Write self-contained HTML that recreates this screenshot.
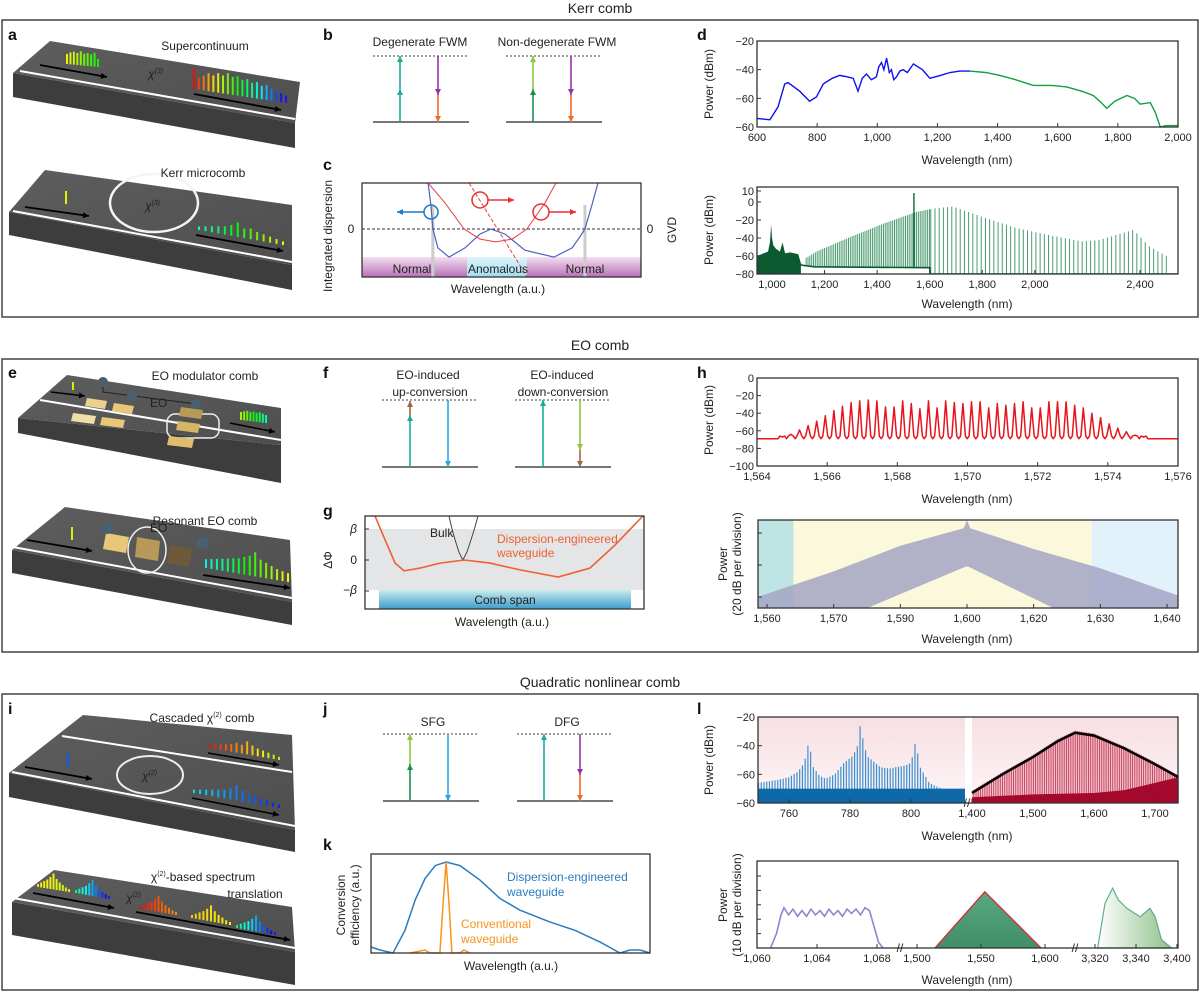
<!DOCTYPE html>
<html><head><meta charset="utf-8">
<style>
html,body{margin:0;padding:0;background:#fff;}
svg{display:block;font-family:"Liberation Sans",Arial,sans-serif;}
.tk{font-size:11px;fill:#222;}
.lab{font-size:12px;fill:#222;}
.pl{font-size:16px;font-weight:bold;fill:#111;}
.sec{font-size:14px;fill:#222;}
</style></head>
<body>
<svg id="fig" width="1200" height="992" viewBox="0 0 1200 992" xmlns="http://www.w3.org/2000/svg">
<defs>
<linearGradient id="chipTop" x1="0" y1="0" x2="1" y2="1"><stop offset="0" stop-color="#5e5e5e"/><stop offset="1" stop-color="#4e4e4e"/></linearGradient>
<linearGradient id="purpBand" x1="0" y1="0" x2="0" y2="1"><stop offset="0" stop-color="#f3dff0"/><stop offset="1" stop-color="#b870b8"/></linearGradient>
<linearGradient id="blueBand" x1="0" y1="0" x2="0" y2="1"><stop offset="0" stop-color="#e0f4fb"/><stop offset="1" stop-color="#9fdcef"/></linearGradient>
<linearGradient id="combSpan" x1="0" y1="0" x2="0" y2="1"><stop offset="0" stop-color="#c8ecec"/><stop offset="1" stop-color="#3f9ccc"/></linearGradient>
<linearGradient id="pinkBg" x1="0" y1="0" x2="0" y2="1"><stop offset="0" stop-color="#f7dfe3"/><stop offset="1" stop-color="#fdf6f7"/></linearGradient>
<linearGradient id="greenFill" x1="0" y1="0" x2="0" y2="1"><stop offset="0" stop-color="#3a9a6a"/><stop offset="1" stop-color="#1f7a50"/></linearGradient>
<linearGradient id="midFill" x1="0" y1="0" x2="1" y2="0"><stop offset="0" stop-color="#ffffff"/><stop offset="1" stop-color="#8fc08a"/></linearGradient>
</defs>

<text x="600" y="13" text-anchor="middle" class="sec">Kerr comb</text>
<rect x="2" y="20" width="1196" height="297" fill="none" stroke="#444" stroke-width="1.5"/>
<text x="600" y="350" text-anchor="middle" class="sec">EO comb</text>
<rect x="2" y="359" width="1196" height="293" fill="none" stroke="#444" stroke-width="1.5"/>
<text x="600" y="687" text-anchor="middle" class="sec">Quadratic nonlinear comb</text>
<rect x="2" y="694" width="1196" height="296" fill="none" stroke="#444" stroke-width="1.5"/>

<text x="8" y="40" class="pl">a</text>
<text x="323" y="40" class="pl">b</text>
<text x="323" y="170" class="pl">c</text>
<text x="697" y="40" class="pl">d</text>
<text x="8" y="378" class="pl">e</text>
<text x="323" y="378" class="pl">f</text>
<text x="323" y="516" class="pl">g</text>
<text x="697" y="378" class="pl">h</text>
<text x="8" y="714" class="pl">i</text>
<text x="323" y="714" class="pl">j</text>
<text x="323" y="850" class="pl">k</text>
<text x="697" y="714" class="pl">l</text>

<g>
<polygon points="13,73 295,123 295,148 13,97" fill="#3d3d3d"/>
<polygon points="50,41 300,82 295,123 13,73" fill="url(#chipTop)"/>
<line x1="20" y1="71" x2="295" y2="119" stroke="#fff" stroke-width="2"/>
</g>
<text x="205" y="50" text-anchor="middle" class="lab">Supercontinuum</text>
<text x="148" y="78" class="lab" style="font-style:italic">χ<tspan dy="-5" font-size="7">(3)</tspan></text>
<g>
<polygon points="9,212 292,265 292,290 9,235" fill="#3d3d3d"/>
<polygon points="45,170 292,205 292,265 9,212" fill="url(#chipTop)"/>
<line x1="13" y1="211" x2="292" y2="262" stroke="#fff" stroke-width="2"/>
<ellipse cx="154" cy="203" rx="44" ry="29" fill="none" stroke="#f4f4f4" stroke-width="2.5"/>
</g>
<text x="203" y="177" text-anchor="middle" class="lab">Kerr microcomb</text>
<text x="145" y="210" class="lab" style="font-style:italic">χ<tspan dy="-5" font-size="7">(3)</tspan></text>

<g>
<polygon points="18,418 281,445 281,483 18,433" fill="#3d3d3d"/>
<polygon points="67,375 281,408 281,445 18,418" fill="url(#chipTop)"/>
<line x1="40" y1="400" x2="281" y2="440" stroke="#fff" stroke-width="2"/>
<polyline points="103,382 103,392 196,404 196,412" fill="none" stroke="#222" stroke-width="1"/>
<rect x="167" y="414" width="52" height="24" rx="8" fill="none" stroke="#eee" stroke-width="1.5"/>
<polygon points="87,398 107,401 105,409 85,406" fill="#ecd28e"/>
<polygon points="114,403 134,406 132,414 112,411" fill="#e8c878"/>
<polygon points="73,413 96,416 94,424 71,421" fill="#f2dfa8"/>
<polygon points="102,417 125,420 123,428 100,425" fill="#e8c878"/>
<polygon points="181,407 203,410 201,419 179,416" fill="#b89a58"/>
<polygon points="178,421 200,424 198,433 176,430" fill="#d7b466"/>
<polygon points="169,436 194,439 192,448 167,445" fill="#e0bd6c"/>
<circle cx="103" cy="382" r="5" fill="#4a6070"/><circle cx="132" cy="396" r="5" fill="#4a6070"/><circle cx="196" cy="404" r="5" fill="#4a6070"/>
</g>
<text x="205" y="380" text-anchor="middle" class="lab">EO modulator comb</text>
<text x="150" y="407" class="lab">EO</text>
<g>
<polygon points="12,550 292,602 292,625 12,573" fill="#3d3d3d"/>
<polygon points="65,507 290,540 292,602 12,550" fill="url(#chipTop)"/>
<line x1="13" y1="547" x2="292" y2="598" stroke="#fff" stroke-width="2"/>
<ellipse cx="147" cy="550" rx="19" ry="23" fill="none" stroke="#eee" stroke-width="1.5"/>
<polygon points="106,533 129,537 126,553 103,549" fill="#e8c878"/>
<polygon points="137,537 160,541 158,561 135,557" fill="#b89a58"/>
<polygon points="170,545 192,549 189,567 167,563" fill="#6e5a38"/>
<circle cx="107" cy="528" r="6" fill="#4a6070"/><circle cx="203" cy="543" r="6" fill="#4a6070"/>
</g>
<text x="205" y="525" text-anchor="middle" class="lab">Resonant EO comb</text>
<text x="150" y="532" class="lab">EO</text>

<g>
<polygon points="9,773 295,830 295,852 9,797" fill="#3d3d3d"/>
<polygon points="83,715 292,735 295,830 9,773" fill="url(#chipTop)"/>
<line x1="62" y1="736" x2="292" y2="772" stroke="#fff" stroke-width="2"/>
<line x1="12" y1="772" x2="295" y2="826" stroke="#fff" stroke-width="2"/>
<ellipse cx="150" cy="775" rx="33" ry="19" fill="none" stroke="#eee" stroke-width="2"/>
</g>
<text x="202" y="722" text-anchor="middle" class="lab">Cascaded χ<tspan dy="-5" font-size="7">(2)</tspan><tspan dy="5"> comb</tspan></text>
<text x="142" y="780" class="lab" style="font-style:italic">χ<tspan dy="-5" font-size="7">(2)</tspan></text>
<g>
<polygon points="12,902 295,952 295,985 12,935" fill="#3d3d3d"/>
<polygon points="54,870 292,907 295,952 12,902" fill="url(#chipTop)"/>
<line x1="13" y1="898" x2="295" y2="948" stroke="#fff" stroke-width="2"/>
</g>
<text x="203" y="881" text-anchor="middle" class="lab">χ<tspan dy="-5" font-size="7">(2)</tspan><tspan dy="5">-based spectrum</tspan></text>
<text x="255" y="898" text-anchor="middle" class="lab">translation</text>
<text x="126" y="902" class="lab" style="font-style:italic">χ<tspan dy="-5" font-size="7">(2)</tspan></text>

<text x="420" y="46" text-anchor="middle" class="lab">Degenerate FWM</text>
<text x="557" y="46" text-anchor="middle" class="lab">Non-degenerate FWM</text>
<text x="428" y="379" text-anchor="middle" class="lab">EO-induced</text>
<text x="430" y="396" text-anchor="middle" class="lab">up-conversion</text>
<text x="562" y="379" text-anchor="middle" class="lab">EO-induced</text>
<text x="563" y="396" text-anchor="middle" class="lab">down-conversion</text>
<text x="433" y="726" text-anchor="middle" class="lab">SFG</text>
<text x="567" y="726" text-anchor="middle" class="lab">DFG</text>

<g id="dyn"></g>
</svg>
<script>
// ================= DATA =================
const dTopBlueNm = [600,643,670,692,703,742,775,798,820,850,875,900,920,936,950,964,980,997,1005,1014,1022,1031,1040,1047,1055,1064,1075,1086,1100,1120,1150,1175,1210,1242,1275,1308];
const dTopBlueDb = [-74,-75,-66,-50,-49,-55,-62,-59,-50,-46,-44,-45,-46,-55,-46,-43,-47,-45,-38,-35,-40,-32,-42,-40,-47,-45,-41,-40,-42,-36,-40,-46,-44,-42,-41,-41];
const dTopGreenNm = [1308,1360,1408,1460,1519,1580,1630,1680,1718,1745,1763,1790,1830,1855,1874,1908,1925,1941,1960,2000];
const dTopGreenDb = [-41,-42,-44,-47,-51,-51,-52,-55,-58,-63,-67,-62,-58,-60,-64,-63,-70,-80,-79,-79];
const dTopXTicks = [600,800,1000,1200,1400,1600,1800,2000];
const dTopXLabels = ["600","800","1,000","1,200","1,400","1,600","1,800","2,000"];
const dTopYTicks = [-20,-40,-60,-80];
const dTopYLabels = ["−20","−40","−60","−60"];
const dEnvNm = [1130,1170,1297,1424,1550,1620,1690,1804,1931,2058,2184,2248,2375,2438,2514];
const dEnvDb = [-62,-55,-39,-24,-11,-7,-5,-17,-29,-37,-44,-42,-31,-50,-62];
const dFloorNm = [943,1000,1090,1110,1160,1600,1602,2544];
const dFloorDb = [-60,-60,-62,-70,-72,-73,-80,-80];
const dNoiseNm = [943,960,985,992,997,1000,1005,1015,1030,1040,1050,1070,1100,1110];
const dNoiseDb = [-60,-58,-55,-45,-25,-40,-48,-52,-55,-45,-57,-56,-58,-68];
const dCombSegStart = [1130,1604];
const dCombSegEnd = [1600,2515];
const dCombSegStep = [7,16];
const dPumpNm = 1540, dPumpDb = 10;
const dBotXTicks = [1000,1200,1400,1600,1800,2000,2400];
const dBotXLabels = ["1,000","1,200","1,400","1,600","1,800","2,000","2,400"];
const dBotYTicks = [10,0,-20,-40,-60,-80];
const dBotYLabels = ["10","0","−20","−40","−60","−80"];
const hPeakDb = [-67,-64,-59,-54,-49,-43,-37,-32,-28,-26,-25,-26,-33,-33,-26,-29,-35,-26,-34,-26,-28,-29,-27,-27,-34,-29,-31,-29,-27,-34,-34,-27,-27,-27,-31,-34,-40,-45,-52,-57,-61,-65,-67];
const hFirstNm = 1564.72, hFsrNm = 0.2452, hFloorDb = -69;
const hTopXTicks = [1564,1566,1568,1570,1572,1574,1576];
const hTopXLabels = ["1,564","1,566","1,568","1,570","1,572","1,574","1,576"];
const hTopYTicks = [0,-20,-40,-60,-80,-100];
const hTopYLabels = ["0","−20","−40","−60","−80","−100"];
const hbUpperX = [-0.14,1.0,2.0,2.95,3.0,3.05,4.0,5.0,6.16];
const hbUpperDb = [-40,-24,-8,3,8,3,-10,-22,-39];
const hbLowerX = [6.16,4.3,3.02,2.98,1.5,-0.14];
const hbLowerDb = [-47,-47,-21,-21,-47,-47];
const hbTickLabels = ["1,560","1,570","1,590","1,600","1,620","1,630","1,640"];
const hbYTicks = [0,-20,-40];
const hbShadeEdges = [-0.14,0.4,4.87,6.16];
const lBlueNm = [750,756,760,763,765,766.5,768,770,772,775,778,781,782.5,783.5,784.5,786,790,793,795,798,800,801.5,803,806,810,818];
const lBlueDb = [-66,-64,-62,-58,-52,-37,-55,-61,-63,-60,-52,-47,-40,-23,-40,-48,-55,-56,-55,-54,-52,-37,-55,-66,-70,-72];
const lBlueFloorDb = -72;
const lBlueStep = 0.9;
const lRedEnvNm = [1400,1450,1500,1540,1569,1600,1650,1700,1738];
const lRedEnvDb = [-73,-60,-48,-37,-31,-33,-42,-53,-62];
const lRedFloorNm = [1400,1500,1600,1650,1700,1738];
const lRedFloorDb = [-76,-74,-73,-71,-66,-62];
const lRedStep = 3;
const lTopLeftTicks = [760,780,800];
const lTopLeftLabels = ["760","780","800"];
const lTopRightTicks = [1400,1500,1600,1700];
const lTopRightLabels = ["1,400","1,500","1,600","1,700"];
const lTopYTicks = [-20,-40,-60,-80];
const lTopYLabels = ["−20","−40","−60","−60"];
const lPurpNm = [1060.9,1061.3,1061.6,1061.8,1062.1,1062.4,1062.7,1063.0,1063.3,1063.6,1063.9,1064.2,1064.5,1064.8,1065.1,1065.4,1065.7,1066.0,1066.3,1066.6,1066.9,1067.2,1067.5,1067.8,1068.1,1068.4];
const lPurpDb = [-50,-40,-27,-22,-27,-23,-28,-24,-28,-23,-27,-24,-28,-23,-27,-24,-28,-23,-26,-23,-27,-22,-24,-35,-46,-50];
const lGreenNm = [1514,1553,1597];
const lGreenDb = [-50,-11,-50];
const lMirNm = [3321.3,3324.9,3328.6,3331.4,3335.5,3342,3346.8,3349.3,3352.5,3357.4];
const lMirDb = [-50,-19,-8.5,-16.7,-22.4,-28.3,-22.4,-28.3,-44.4,-50];
const lBotSeg1Ticks = [1060,1064,1068]; const lBotSeg1Labels = ["1,060","1,064","1,068"];
const lBotSeg2Ticks = [1500,1550,1600]; const lBotSeg2Labels = ["1,500","1,550","1,600"];
const lBotSeg3Ticks = [3320,3340,3360]; const lBotSeg3Labels = ["3,320","3,340","3,400"];
const lBotYTicks = [-40,-30,-20,-10,0];
const cBlueX = [23.7,24.7,25.4,27.2,31.2,36.9,42.3,46.2,51.3,58.4,68.8,75.3,78.1,79.9,82.4,84.6];
const cBlueY = [1,0.52,0,-0.41,-0.61,-0.41,-0.11,0,-0.11,-0.46,-0.61,-0.41,-0.17,0,0.52,1];
const cRedX = [23.7,29.7,36.6,42.3,48.0,53.8,59.1,65.6,69.5];
const cRedY = [1,0.57,0,-0.22,-0.28,-0.22,0,0.57,1];
const cDashX = [38.4,59.1]; const cDashY = [1,-1.04];
const gOrangeX = [3.6,7.2,10.8,14.0,19.7,26.9,35.5,44.8,55.6,69.2,80.6,89.6,99.6];
const gOrangeY = [1.42,0.65,-0.1,-0.35,-0.26,-0.1,0,-0.1,-0.32,-0.55,-0.26,0.48,1.42];
const gBulkX = [30.1,31.2,32.3,33.7,35.1,36.5,38.0,39.2,40.5];
const gBulkY = [1.42,1.0,0.65,0.25,0,0.25,0.65,1.0,1.42];
const kBlueX = [0,3.2,7.9,12.2,15.8,19.4,23.0,26.9,31.9,39.1,46.2,53.4,64.2,73.1,82.1,89.2,92.8,96.4,100];
const kBlueY = [0.066,0.033,0,0.25,0.58,0.82,0.96,1,0.96,0.80,0.60,0.47,0.34,0.25,0.12,0,0.033,0.033,0];
const kOrX = [14.0,19.4,21.1,24.7,25.8,26.9,28.0,29.0,31.9,33.3,35.5];
const kOrY = [0,0.033,0,0,0.53,1,0.53,0,0,0.033,0];
const kerrCombBars = [3,4,5,6,7,9,12,8,9,7,6,5,4,3];
const scBars = [14,8,10,12,11,13,12,14,12,13,11,12,10,11,9,10,8,7,6,5];
const resEoBars = [8,9,10,11,12,13,14,16,18,22,16,14,12,10,9,8];
const casc1Bars = [3,4,5,6,7,9,8,12,9,7,6,5,4,3];
const casc2Bars = [3,4,5,6,7,8,10,14,10,8,7,6,5,4,3];
const transBars = [3,5,7,9,12,16,11,8,6,4,3];

// ================= HELPERS =================
const NS='http://www.w3.org/2000/svg';
const root=document.getElementById('dyn');
function E(tag,attrs,parent){const e=document.createElementNS(NS,tag);for(const k in attrs)e.setAttribute(k,attrs[k]);(parent||root).appendChild(e);return e;}
function lin(d0,d1,r0,r1){return v=>r0+(v-d0)*(r1-r0)/(d1-d0);}
function interp(xs,ys,x){if(x<=xs[0])return ys[0];for(let i=1;i<xs.length;i++){if(x<=xs[i]){const t=(x-xs[i-1])/(xs[i]-xs[i-1]);return ys[i-1]+t*(ys[i]-ys[i-1]);}}return ys[ys.length-1];}
function pd(xs,ys,sx,sy){return xs.map((v,i)=>(i?'L':'M')+sx(v).toFixed(1)+' '+sy(ys[i]).toFixed(1)).join('');}
function frame(x0,y0,x1,y1,name){const r=E('rect',{x:x0,y:y0,width:x1-x0,height:y1-y0,fill:'none',stroke:'#333','stroke-width':1.3});


return r;}
function xTicks(vals,labels,sx,yb,name,ly){vals.forEach((v,i)=>{const x=sx(v);
const t=E('line',{x1:x,y1:yb,x2:x,y2:yb-4,stroke:'#333','stroke-width':1});


const tx=E('text',{x:x,y:ly||yb+14,'text-anchor':'middle',class:'tk'});tx.textContent=labels[i];

});}
function yTicks(vals,labels,sy,xl,name){vals.forEach((v,i)=>{const y=sy(v);
const t=E('line',{x1:xl,y1:y,x2:xl+4,y2:y,stroke:'#333','stroke-width':1});


if(labels){const tx=E('text',{x:xl-3,y:y+4,'text-anchor':'end',class:'tk'});tx.textContent=labels[i];

}});}
function txt(x,y,s,name,extra){const t=E('text',Object.assign({x:x,y:y,class:'lab'},extra||{}));t.textContent=s;


return t;}
function rtxt(x,y,s,name){const t=E('text',{x:0,y:0,class:'lab','text-anchor':'middle',transform:'translate('+x+','+y+') rotate(-90)'});t.textContent=s;


return t;}
function arrow(x1,y1,x2,y2,col,name,w){const l=E('line',{x1:x1,y1:y1,x2:x2,y2:y2,stroke:col,'stroke-width':w||1.6});


const a=Math.atan2(y2-y1,x2-x1),s=6;
const p=E('polygon',{points:`${x2},${y2} ${x2-s*Math.cos(a)+3*Math.sin(a)},${y2-s*Math.sin(a)-3*Math.cos(a)} ${x2-s*Math.cos(a)-3*Math.sin(a)},${y2-s*Math.sin(a)+3*Math.cos(a)}`,fill:col});

}
function bars(x0,y0,x1,y1,h,hue0,hue1,name,scale){const n=h.length;for(let i=0;i<n;i++){const t=n>1?i/(n-1):0;const x=x0+t*(x1-x0),y=y0+t*(y1-y0);
const b=E('line',{x1:x,y1:y,x2:x,y2:y-h[i]*(scale||1),stroke:`hsl(${hue0+t*(hue1-hue0)},90%,50%)`,'stroke-width':2});

}}

// ================= CHIP DECORATIONS =================
arrow(40,65,107,77,'#000','sc-input-arrow',1.8);
arrow(194,94,281,110,'#000','sc-output-arrow',1.8);
bars(67,64,98,67,[10,12,13,12,14,12,13,12,14,8],60,120,'sc-input-spectrum',1);
bars(194,89,286,103,scBars,0,250,'sc-output-spectrum',1.5);
arrow(25,207,89,216,'#000','microcomb-input-arrow',1.8);
arrow(196,235,283,251,'#000','microcomb-output-arrow',1.8);
bars(66,204,66,204,[13],65,65,'microcomb-pump',1);
bars(199,230,283,245,kerrCombBars,170,60,'microcomb-comb',1.2);
arrow(51,392,85,396,'#000','eo-mod-input-arrow',1.5);
arrow(230,423,275,432,'#000','eo-mod-output-arrow',1.5);
bars(73,390,73,390,[8],70,70,'eo-mod-pump',1);
bars(241,420,266,423,[8,9,10,9,10,9,10,9,8],80,160,'eo-mod-spectrum',1);
arrow(27,540,92,551,'#000','res-eo-input-arrow',1.8);
arrow(203,575,290,588,'#000','res-eo-output-arrow',1.8);
bars(72,540,72,540,[13],70,70,'res-eo-pump',1);
bars(206,568,288,582,resEoBars,175,60,'res-eo-comb',1.1);
arrow(25,767,92,779,'#000','casc-input-arrow',1.8);
arrow(208,753,279,765,'#000','casc-upper-arrow',1.5);
arrow(192,798,279,815,'#000','casc-lower-arrow',1.5);
bars(68,767,68,767,[14],220,220,'casc-pump',1);
bars(210,748,279,760,casc1Bars,0,80,'casc-upper-comb',1.1);
bars(194,793,279,808,casc2Bars,185,235,'casc-lower-comb',1.1);
arrow(33,893,114,908,'#000','trans-input-arrow',1.8);
arrow(136,912,290,940,'#000','trans-output-arrow',1.8);
bars(38,887,69,892,transBars,55,70,'trans-spec-1',1);
bars(76,893,109,899,transBars,150,250,'trans-spec-2',1);
bars(141,909,176,915,transBars,0,35,'trans-spec-3',1);
bars(192,918,230,925,transBars,50,60,'trans-spec-4',1);
bars(237,928,275,935,transBars,150,250,'trans-spec-5',1);

// ================= ENERGY DIAGRAMS =================
function levels(x0,x1,yt,yb,name){const d=E('line',{x1:x0,y1:yt,x2:x1,y2:yt,stroke:'#666','stroke-width':1.3,'stroke-dasharray':'2,2'});


const g=E('line',{x1:x0,y1:yb,x2:x1,y2:yb,stroke:'#777','stroke-width':2});

}
levels(373,469,56,122,'degenerate-fwm');
arrow(400,122,400,89,'#1aab9b','fwm-pump1');arrow(400,89,400,56,'#1aab9b','fwm-pump2');
arrow(438,56,438,95,'#9b2fa8','fwm-idler');arrow(438,95,438,122,'#f26a2a','fwm-signal');
levels(506,602,56,122,'nondegenerate-fwm');
arrow(533,122,533,89,'#17914e','nfwm-pump1');arrow(533,89,533,56,'#8cc63f','nfwm-pump2');
arrow(571,56,571,95,'#9b2fa8','nfwm-idler');arrow(571,95,571,122,'#f26a2a','nfwm-signal');
levels(382,478,400,467,'eo-up');
arrow(410,467,410,415,'#1aab9b','eo-up-pump');arrow(410,415,410,401,'#9a6a3a','eo-up-rf');
arrow(448,400,448,467,'#2aa6e0','eo-up-out');
levels(515,611,400,467,'eo-down');
arrow(543,467,543,400,'#1aab9b','eo-down-pump');arrow(580,400,580,450,'#8cc63f','eo-down-out');arrow(580,450,580,467,'#9a6a3a','eo-down-rf');
levels(383,479,734,801,'sfg');
arrow(410,801,410,764,'#17914e','sfg-pump1');arrow(410,764,410,734,'#8cc63f','sfg-pump2');
arrow(448,734,448,801,'#2aa6e0','sfg-out');
levels(517,613,734,801,'dfg');
arrow(544,801,544,734,'#1aab9b','dfg-pump');arrow(580,734,580,775,'#9b2fa8','dfg-signal');arrow(580,775,580,801,'#f26a2a','dfg-idler');

// ================= PANEL c =================
{const sx=lin(0,100,362,641), sy=lin(0,1,229,183);
let r=E('rect',{x:362,y:257,width:279,height:20,fill:'url(#purpBand)'});


r=E('rect',{x:467,y:257,width:60,height:20,fill:'url(#blueBand)'});


[25.4,79.9].forEach(v=>{const b=E('line',{x1:sx(v),y1:205,x2:sx(v),y2:277,stroke:'#ccc','stroke-width':3});

});
const z=E('line',{x1:362,y1:229,x2:641,y2:229,stroke:'#333','stroke-width':1,'stroke-dasharray':'3,2'});


const g=E('g',{'clip-path':'url(#cClip)'});
const cp=E('clipPath',{id:'cClip'});E('rect',{x:362,y:183,width:279,height:94},cp);
let p=E('path',{d:pd(cBlueX,cBlueY,sx,sy),fill:'none',stroke:'#5060c0','stroke-width':1.2},g);


p=E('path',{d:pd(cRedX,cRedY,sx,sy),fill:'none',stroke:'#e84040','stroke-width':1},g);


p=E('path',{d:pd(cDashX,cDashY,sx,sy),fill:'none',stroke:'#e84040','stroke-width':1,'stroke-dasharray':'4,2'},g);


frame(362,183,641,277,'c-plot-frame');
let c=E('circle',{cx:431,cy:212,r:7,fill:'none',stroke:'#1f7ac8','stroke-width':1.5});


arrow(424,212,397,212,'#1f7ac8','blue-axis-arrow');
c=E('circle',{cx:480,cy:200,r:8,fill:'none',stroke:'#e83030','stroke-width':1.5});


arrow(488,200,514,200,'#e83030','red-axis-arrow-1');
c=E('circle',{cx:541,cy:212,r:8,fill:'none',stroke:'#e83030','stroke-width':1.5});


arrow(549,212,576,212,'#e83030','red-axis-arrow-2');
txt(412,273,'Normal','normal-label-left',{'text-anchor':'middle'});
txt(498,273,'Anomalous','anomalous-label',{'text-anchor':'middle'});
txt(585,273,'Normal','normal-label-right',{'text-anchor':'middle'});
txt(351,233,'0','c-left-zero',{'text-anchor':'middle'});
txt(650,233,'0','c-right-zero',{'text-anchor':'middle'});
rtxt(676,230,'GVD','gvd-axis-title');
rtxt(332,236,'Integrated dispersion','integrated-dispersion-axis-title');
txt(498,293,'Wavelength (a.u.)','c-x-axis-title',{'text-anchor':'middle'});}

// ================= PANEL g =================
{const sx=lin(0,100,365,644), sy=lin(0,1,560,529);
let r=E('rect',{x:365,y:529,width:279,height:61,fill:'#e4e5e6'});


r=E('rect',{x:379,y:590,width:252,height:19,fill:'url(#combSpan)'});


let p=E('path',{d:pd(gBulkX,gBulkY,sx,sy),fill:'none',stroke:'#444','stroke-width':1});


p=E('path',{d:pd(gOrangeX,gOrangeY,sx,sy),fill:'none',stroke:'#f06030','stroke-width':1.6});


frame(365,516,644,609,'g-plot-frame');
yTicks([1,0,-1],null,sy,365,'g-y');
txt(357,533,'β','beta-label',{'text-anchor':'end','font-style':'italic'});
txt(357,564,'0','g-zero-label',{'text-anchor':'end'});
txt(357,594,'−β','neg-beta-label',{'text-anchor':'end','font-style':'italic'});
rtxt(332,560,'ΔΦ','delta-phi-axis-title');
txt(430,537,'Bulk','bulk-label');
txt(497,543,'Dispersion-engineered','disp-eng-label',{style:'fill:#f06030'});
txt(497,557,'waveguide','disp-eng-label-2',{style:'fill:#f06030'});
txt(505,604,'Comb span','comb-span-label',{'text-anchor':'middle'});
txt(502,626,'Wavelength (a.u.)','g-x-axis-title',{'text-anchor':'middle'});}

// ================= PANEL k =================
{const sx=lin(0,100,371,650), sy=lin(0,1,953,862);
let p=E('path',{d:pd(kBlueX,kBlueY,sx,sy),fill:'none',stroke:'#2a7cc0','stroke-width':1.5});


p=E('path',{d:pd(kOrX,kOrY,sx,sy),fill:'none',stroke:'#f7941d','stroke-width':1.5});


frame(371,854,650,953,'k-plot-frame');
txt(507,881,'Dispersion-engineered','k-disp-eng-label',{style:'fill:#2a7cc0'});
txt(507,896,'waveguide','k-disp-eng-label-2',{style:'fill:#2a7cc0'});
txt(461,928,'Conventional','k-conv-label',{style:'fill:#f7941d'});
txt(461,943,'waveguide','k-conv-label-2',{style:'fill:#f7941d'});
rtxt(345,905,'Conversion','k-y-axis-title-1');
rtxt(359,905,'efficiency (a.u.)','k-y-axis-title-2');
txt(511,970,'Wavelength (a.u.)','k-x-axis-title',{'text-anchor':'middle'});}

// ================= PANEL d top =================
{const sx=lin(600,2000,757,1178), sy=lin(-20,-80,41,127);
let p=E('path',{d:pd(dTopBlueNm,dTopBlueDb,sx,sy),fill:'none',stroke:'#1010f0','stroke-width':1.4});


p=E('path',{d:pd(dTopGreenNm,dTopGreenDb,sx,sy),fill:'none',stroke:'#10a040','stroke-width':1.4});


frame(757,41,1178,127,'d-top-frame');
xTicks(dTopXTicks,dTopXLabels,sx,127,'d-top-x');
yTicks(dTopYTicks,dTopYLabels,sy,757,'d-top-y');
rtxt(713,84,'Power (dBm)','d-top-y-axis-title');
txt(967,164,'Wavelength (nm)','d-top-x-axis-title',{'text-anchor':'middle'});}

// ================= PANEL d bottom =================
{const sx=lin(1000,2400,772,1140), sy=lin(0,-80,202,274);
const g=E('g',{'clip-path':'url(#dClip)'});
const cp=E('clipPath',{id:'dClip'});E('rect',{x:757,y:187,width:421,height:87},cp);
for(let s=0;s<dCombSegStart.length;s++){for(let nm=dCombSegStart[s];nm<=dCombSegEnd[s];nm+=dCombSegStep[s]){
const l=E('line',{x1:sx(nm),y1:sy(interp(dFloorNm,dFloorDb,nm)),x2:sx(nm),y2:sy(interp(dEnvNm,dEnvDb,nm)),stroke:'#4a9a70','stroke-width':1},g);

}}
let p=E('path',{d:pd(dNoiseNm.concat([1110,943]),dNoiseDb.concat([-80,-80]),sx,sy)+'Z',fill:'#0b5a30'},g);


p=E('path',{d:pd(dFloorNm,dFloorDb,sx,sy),fill:'none',stroke:'#0b5a30','stroke-width':1.6},g);


p=E('line',{x1:sx(dPumpNm),y1:sy(-72),x2:sx(dPumpNm),y2:sy(dPumpDb),stroke:'#0b6a38','stroke-width':1.4},g);


frame(757,187,1178,274,'d-bottom-frame');
xTicks(dBotXTicks,dBotXLabels,sx,274,'d-bottom-x');
const syl=v=>v===10?191:sy(v);
yTicks(dBotYTicks,dBotYLabels,syl,757,'d-bottom-y');
rtxt(713,230,'Power (dBm)','d-bottom-y-axis-title');
txt(967,308,'Wavelength (nm)','d-bottom-x-axis-title',{'text-anchor':'middle'});}

// ================= PANEL h top =================
{const sx=lin(1564,1576,757,1178), sy=lin(0,-100,378,466);
let xs=[1564,hFirstNm-0.12], ys=[hFloorDb,hFloorDb];
hPeakDb.forEach((v,i)=>{const c=hFirstNm+i*hFsrNm;xs.push(c-0.07,c,c+0.07,c+hFsrNm/2);ys.push(hFloorDb+3,v,hFloorDb+3,hFloorDb);});
xs.push(1576);ys.push(hFloorDb);
const p=E('path',{d:pd(xs,ys,sx,sy),fill:'none',stroke:'#e8141c','stroke-width':1.5,'stroke-linejoin':'round'});


frame(757,378,1178,466,'h-top-frame');
xTicks(hTopXTicks,hTopXLabels,sx,466,'h-top-x');
yTicks(hTopYTicks,hTopYLabels,sy,757,'h-top-y');
rtxt(713,420,'Power (dBm)','h-top-y-axis-title');
txt(967,503,'Wavelength (nm)','h-top-x-axis-title',{'text-anchor':'middle'});}

// ================= PANEL h bottom =================
{const sx=lin(0,6,767,1167), sy=lin(0,-40,533,597);
const cols=['#bfe4e4','#fbf8dc','#e2f2fb'];
for(let i=0;i<3;i++){const r=E('rect',{x:sx(hbShadeEdges[i]),y:520,width:sx(hbShadeEdges[i+1])-sx(hbShadeEdges[i]),height:88,fill:cols[i]});

}
const g=E('g',{'clip-path':'url(#hClip)'});
const cp=E('clipPath',{id:'hClip'});E('rect',{x:758,y:520,width:420,height:88},cp);
const p=E('path',{d:pd(hbUpperX.concat(hbLowerX),hbUpperDb.concat(hbLowerDb),sx,sy)+'Z',fill:'#a3a6c4',opacity:0.85},g);


frame(758,520,1178,608,'h-bottom-frame');
xTicks([0,1,2,3,4,5,6],hbTickLabels,sx,608,'h-bottom-x');
yTicks(hbYTicks,null,sy,758,'h-bottom-y');
rtxt(727,564,'Power','h-bottom-y-axis-title-1');
rtxt(741,564,'(20 dB per division)','h-bottom-y-axis-title-2');
txt(967,643,'Wavelength (nm)','h-bottom-x-axis-title',{'text-anchor':'middle'});}

// ================= PANEL l top =================
{const sxL=lin(760,800,789,911), sxR=lin(1400,1700,972,1155), sy=lin(-20,-80,717,803);
let r=E('rect',{x:758,y:717,width:420,height:86,fill:'url(#pinkBg)'});


r=E('rect',{x:965,y:717,width:7,height:86,fill:'#fff'});


for(let nm=lBlueNm[0];nm<=818;nm+=lBlueStep){const l=E('line',{x1:sxL(nm),y1:sy(lBlueFloorDb),x2:sxL(nm),y2:sy(interp(lBlueNm,lBlueDb,nm)),stroke:'#3b8fd0','stroke-width':1.2});

}
r=E('rect',{x:758,y:sy(lBlueFloorDb+2),width:207,height:803-sy(lBlueFloorDb+2),fill:'#0f68a8'});


for(let nm=1402;nm<=1738;nm+=lRedStep){const l=E('line',{x1:sxR(nm),y1:803,x2:sxR(nm),y2:sy(interp(lRedEnvNm,lRedEnvDb,nm)+1.5),stroke:'#cc4a66','stroke-width':1.1});

}
let p=E('path',{d:pd(lRedFloorNm.concat([1738,1400]),lRedFloorDb.concat([-80,-80]),sxR,sy)+'Z',fill:'#a4082c'});


p=E('path',{d:pd(lRedEnvNm,lRedEnvDb,sxR,sy),fill:'none',stroke:'#000','stroke-width':2.5});


frame(758,717,1178,803,'l-top-frame');
xTicks(lTopLeftTicks,lTopLeftLabels,sxL,803,'l-top-x-left');
xTicks(lTopRightTicks,lTopRightLabels,sxR,803,'l-top-x-right');
yTicks(lTopYTicks,lTopYLabels,sy,758,'l-top-y');
txt(967,807,'//','l-top-axis-break',{'text-anchor':'middle','font-size':'9'});
rtxt(713,760,'Power (dBm)','l-top-y-axis-title');
txt(967,840,'Wavelength (nm)','l-top-x-axis-title',{'text-anchor':'middle'});}

// ================= PANEL l bottom =================
{const s1=lin(1060,1068,757,877), s2=lin(1500,1600,917,1045), s3=lin(3320,3340,1095,1136), sy=lin(0,-50,876,948);
let p=E('path',{d:pd(lPurpNm,lPurpDb,s1,sy),fill:'none',stroke:'#9b7fd0','stroke-width':1.6});


p=E('path',{d:pd(lGreenNm,lGreenDb,s2,sy)+'Z',fill:'url(#greenFill)',opacity:0.85});


p=E('path',{d:pd(lGreenNm,lGreenDb,s2,sy),fill:'none',stroke:'#e02030','stroke-width':1.2});


p=E('path',{d:pd(lMirNm,lMirDb,s3,sy)+'Z',fill:'url(#midFill)',stroke:'#5fae8a','stroke-width':1.2});


frame(757,861,1178,948,'l-bottom-frame');
xTicks(lBotSeg1Ticks,lBotSeg1Labels,s1,948,'l-bottom-x-seg1');
xTicks(lBotSeg2Ticks,lBotSeg2Labels,s2,948,'l-bottom-x-seg2');
xTicks(lBotSeg3Ticks,lBotSeg3Labels,s3,948,'l-bottom-x-seg3');
yTicks(lBotYTicks,null,sy,757,'l-bottom-y');
txt(900,952,'//','l-bottom-break-1',{'text-anchor':'middle','font-size':'9'});
txt(1075,952,'//','l-bottom-break-2',{'text-anchor':'middle','font-size':'9'});
rtxt(727,905,'Power','l-bottom-y-axis-title-1');
rtxt(741,905,'(10 dB per division)','l-bottom-y-axis-title-2');
txt(967,984,'Wavelength (nm)','l-bottom-x-axis-title',{'text-anchor':'middle'});}
</script>
</body></html>
